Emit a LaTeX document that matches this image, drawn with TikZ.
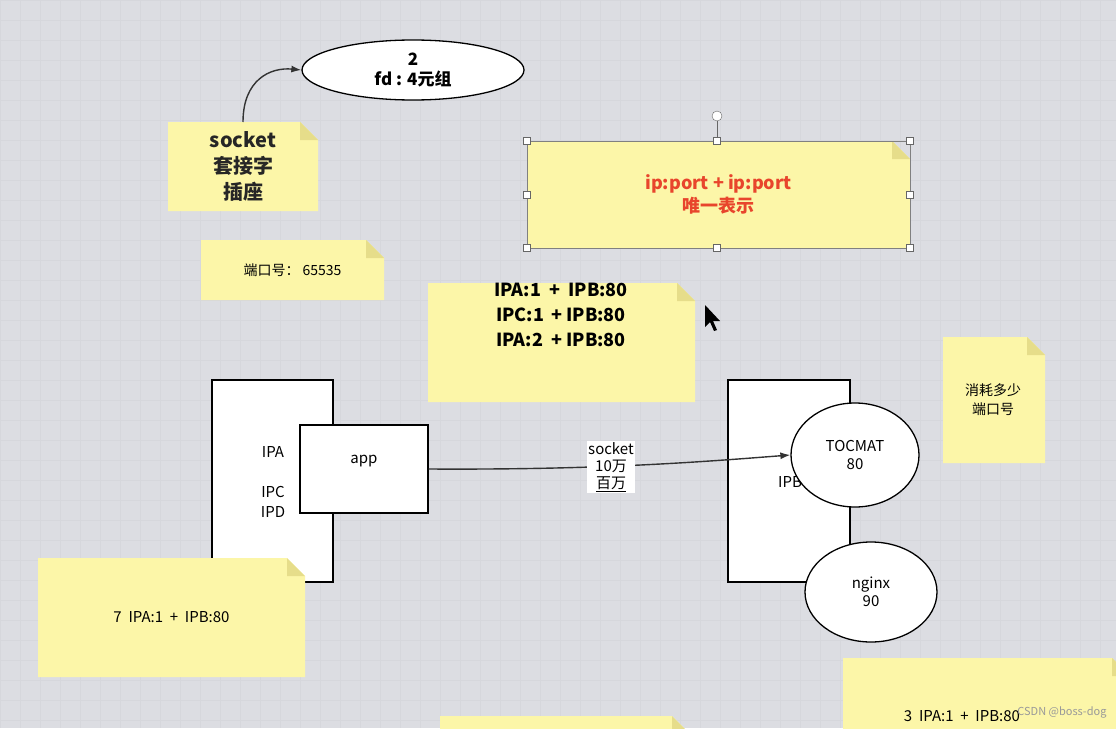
\documentclass[tikz,border=0pt]{standalone}
\usepackage{fontspec}
\setmainfont{Noto Sans CJK SC}
\usetikzlibrary{shapes.geometric,arrows.meta}
\definecolor{bg}{HTML}{DCDDE2}
\definecolor{grid}{HTML}{D6D7DC}
\definecolor{note}{HTML}{FCF6A8}
\definecolor{fold}{HTML}{E6DD8A}
\definecolor{redt}{HTML}{E8452C}
\tikzset{
 note/.style={fill=note},
 arr/.style={-{Latex[length=10pt,width=7pt]},line width=1.4pt,black!80},
 handle/.style={draw=black!60,fill=white,minimum size=7pt,inner sep=0pt},
}
\newcommand{\mynote}[5]{% x1 y1 x2 y2 name
 \fill[note] (#1,#2) -- (#3-18,#2) -- (#3,#2+18) -- (#3,#4) -- (#1,#4) -- cycle;
 \fill[fold] (#3-18,#2) -- (#3,#2+18) -- (#3-18,#2+18) -- cycle;
 \coordinate (#5) at ({(#1+#3)/2},{(#2+#4)/2});
}
\begin{document}
\begin{tikzpicture}[x=1pt,y=-1pt,font=\fontsize{15}{18}\selectfont]
\useasboundingbox (0,0) rectangle (1116,728);
\fill[bg] (0,0) rectangle (1116,728);
\foreach \i in {0,20,...,1116} \draw[grid,line width=0.3pt] (\i,0) -- (\i,728);
\foreach \j in {0,20,...,728} \draw[grid,line width=0.3pt] (0,\j) -- (1116,\j);

\node[ellipse,draw,line width=1.3pt,fill=white,minimum width=222pt,minimum height=60pt,align=center,font=\fontsize{17}{20}\selectfont\bfseries] (fd) at (413,70) {2\\fd : 4元组};

\mynote{168}{122}{318}{211}{nsock}
\node[align=center,font=\fontsize{20}{26}\selectfont\bfseries,text=black!85] (sock) at (nsock) {socket\\套接字\\插座};
\draw[arr] (243,122) .. controls (243,80) and (270,67) .. (fd.west);

\mynote{201}{240}{384}{300}{nport}
\node[font=\fontsize{14}{17}\selectfont] (port) at (nport) {端口号： 65535};

\mynote{527}{141}{910}{248}{nuniq}
\draw[black!50,line width=0.6pt] (527,141) rectangle (910,248);
\node[align=center,text=redt,font=\fontsize{18}{23}\selectfont\bfseries] (uniq) at (nuniq) {ip:port + ip:port\\唯一表示};
\foreach \p [count=\k] in {(527,141),(717,141),(910,141),(527,195),(910,195),(527,248),(717,248),(910,248)}
  \node[handle] (h\k) at \p {};
\node[circle,draw=black!60,fill=white,minimum size=10pt,inner sep=0pt] (rot) at (717,116) {};
\draw[black!60] (rot) -- (h2);

\mynote{428}{283}{695}{402}{nlist}
\node[align=center,font=\fontsize{18}{25}\selectfont\bfseries,anchor=north] (list) at (561,280) {IPA:1 \ + \ IPB:80\\IPC:1 \,+ IPB:80\\IPA:2 \ + IPB:80};
\fill[black] (705,305) -- (705,327) -- (710,322) -- (714,331) -- (717,330) -- (713,321) -- (720,321) -- cycle;

\mynote{943}{337}{1045}{463}{ncost}
\node[align=center,font=\fontsize{14}{19}\selectfont] (cost) at (993,400) {消耗多少\\端口号};

\node[draw,line width=1.3pt,fill=white,minimum width=121pt,minimum height=202pt] (L) at (272.5,481) {};
\node (ipa) at (273,452) {IPA};
\node[align=center,font=\fontsize{15}{20}\selectfont] (ipc) at (273,502) {IPC\\IPD};
\node[draw,line width=1.3pt,fill=white,minimum width=128pt,minimum height=88pt] (app) at (364,469) {};
\node (appt) at (364,461) {app};

\node[draw,line width=1.3pt,fill=white,minimum width=122pt,minimum height=202pt] (R) at (789,481) {};
\node (ipb) at (790,482) {IPB};
\node[ellipse,draw,line width=1.3pt,fill=white,minimum width=128pt,minimum height=104pt,align=center] (tom) at (855,455) {TOCMAT\\80};
\node[ellipse,draw,line width=1.3pt,fill=white,minimum width=132pt,minimum height=100pt,align=center] (ngx) at (871,592) {nginx\\90};

\draw[arr] (app.east) .. controls (600,470) and (700,462) .. (tom.west);
\node[fill=white,align=center,inner sep=1pt,font=\fontsize{15}{17}\selectfont] (lbl) at (611,467) {socket\\10万\\\underline{百万}};

\mynote{38}{558}{305}{677}{n7}
\node (t7) at (n7) {7 \ IPA:1 \ + \ IPB:80};

\mynote{843}{658}{1130}{760}{n3}
\node (t3) at (962,716) {3 \ IPA:1 \ + \ IPB:80};
\mynote{440}{716}{690}{760}{nb}
\node[text=black!40,font=\fontsize{11}{13}\selectfont,anchor=east] (wm) at (1110,712) {CSDN @boss-dog};
\end{tikzpicture}
\end{document}
